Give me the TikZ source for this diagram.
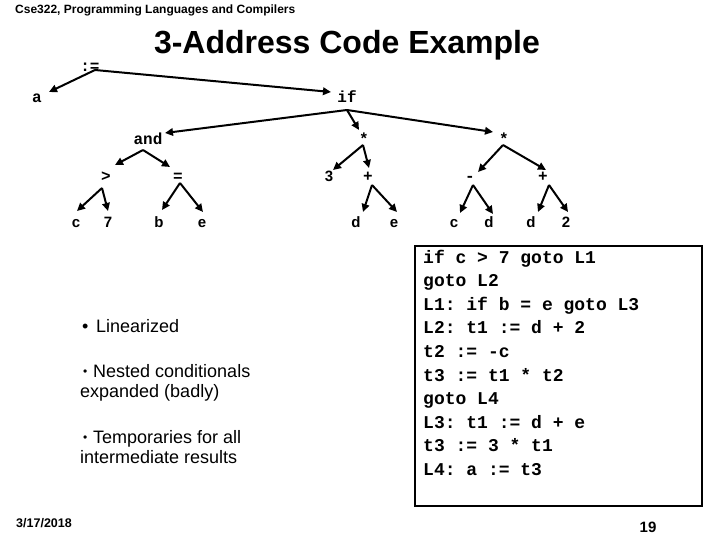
\documentclass[tikz,border=0pt]{standalone}
\usepackage{fontspec}
\setmainfont{Liberation Sans}
\newfontfamily\cour{Liberation Mono}
\usetikzlibrary{arrows.meta}
\frenchspacing
\tikzset{
  op/.style={anchor=base, inner sep=0pt, font=\cour\bfseries\fontsize{16}{16}\selectfont},
  lf/.style={anchor=base, inner sep=0pt, font=\bfseries\fontsize{15}{15}\selectfont},
  arr/.style={line width=2pt, -{Triangle[length=8pt,width=7.5pt]}},
  codeline/.style={anchor=base west, inner sep=0pt, font=\cour\bfseries\fontsize{18}{18}\selectfont\frenchspacing},
  bul/.style={anchor=base west, inner sep=0pt, font=\fontsize{18}{18}\selectfont},
}
\begin{document}
\begin{tikzpicture}[x=1pt,y=-1pt]
\useasboundingbox (0,0) rectangle (720,540);
% header and title
\node[anchor=base west, inner sep=0pt, font=\bfseries\fontsize{12}{13}\selectfont] (hdr) at (15,14) {Cse322, Programming Languages and Compilers};
\node[anchor=base, inner sep=0pt, font=\bfseries\fontsize{32}{33}\selectfont] (title) at (347,54) {3-Address Code Example};
% tree nodes
\node[op] (assign) at (90,72) {:=};
\node[op] (a) at (37,103) {a};
\node[op] (if) at (347,103) {if};
\node[op] (and) at (148,145) {and};
\node[op] (gt) at (106,182) {>};
\node[op] (eq) at (178,182) {=};
\node[lf] (c1) at (76,227) {c};
\node[lf] (seven) at (108,227) {7};
\node[lf] (b) at (159,227) {b};
\node[lf] (e1) at (202,227) {e};
\node[op] (mul1) at (364,145) {*};
\node[lf] (three) at (329,182) {3};
\node[op] (plus1) at (368,182) {+};
\node[lf] (d1) at (356,227) {d};
\node[lf] (e2) at (394,227) {e};
\node[op] (mul2) at (504,145) {*};
\node[op] (minus) at (470,182) {-};
\node[op] (plus2) at (543,182) {+};
\node[lf] (c2) at (454,227) {c};
\node[lf] (d2) at (489,227) {d};
\node[lf] (d3) at (531,227) {d};
\node[lf] (two) at (566,227) {2};
% edges
\draw[arr] ([shift={(5,-2)}]assign.base) -- ([shift={(12,-11)}]a.base);
\draw[arr] ([shift={(5,-2)}]assign.base) -- ([shift={(-16,-11)}]if.base);
\draw[arr] ([shift={(0,7)}]if.base) -- ([shift={(17,-12)}]and.base);
\draw[arr] ([shift={(0,7)}]if.base) -- ([shift={(-5,-15)}]mul1.base);
\draw[arr] ([shift={(0,7)}]if.base) -- ([shift={(-11,-13)}]mul2.base);
\draw[arr] ([shift={(-5,5)}]and.base) -- ([shift={(9,-17)}]gt.base);
\draw[arr] ([shift={(-5,5)}]and.base) -- ([shift={(-8,-15)}]eq.base);
\draw[arr] ([shift={(-4,6)}]gt.base) -- ([shift={(1,-16)}]c1.base);
\draw[arr] ([shift={(-4,6)}]gt.base) -- ([shift={(0,-16)}]seven.base);
\draw[arr] ([shift={(2,1)}]eq.base) -- ([shift={(3,-17)}]b.base);
\draw[arr] ([shift={(2,1)}]eq.base) -- ([shift={(1,-15)}]e1.base);
\draw[arr] ([shift={(-1,0)}]mul1.base) -- ([shift={(4,-12)}]three.base);
\draw[arr] ([shift={(-1,0)}]mul1.base) -- ([shift={(1,-14)}]plus1.base);
\draw[arr] ([shift={(4,3)}]plus1.base) -- ([shift={(7,-15)}]d1.base);
\draw[arr] ([shift={(4,3)}]plus1.base) -- ([shift={(3,-15)}]e2.base);
\draw[arr] ([shift={(-1,0)}]mul2.base) -- ([shift={(8,-10)}]minus.base);
\draw[arr] ([shift={(-1,0)}]mul2.base) -- ([shift={(3,-12)}]plus2.base);
\draw[arr] ([shift={(3,3)}]minus.base) -- ([shift={(6,-14)}]c2.base);
\draw[arr] ([shift={(3,3)}]minus.base) -- ([shift={(4,-13)}]d2.base);
\draw[arr] ([shift={(6,3)}]plus2.base) -- ([shift={(7,-15)}]d3.base);
\draw[arr] ([shift={(6,3)}]plus2.base) -- ([shift={(2,-15)}]two.base);
% bullets
\node[bul] (b1dot) at (82,332) {•};
\node[bul] (b1) at (96,332) {Linearized};
\node[bul, font=\fontsize{12}{12}\selectfont] (b2dot) at (83,375) {•};
\node[bul] (b2) at (93,377) {Nested conditionals};
\node[bul] (b2b) at (80,397) {expanded (badly)};
\node[bul, font=\fontsize{12}{12}\selectfont] (b3dot) at (83,441) {•};
\node[bul] (b3) at (93,443) {Temporaries for all};
\node[bul] (b3b) at (80,463) {intermediate results};
% code box
\draw[line width=1.2pt] (415,246) rectangle (702,506);
\foreach \t [count=\i from 0] in {if c > 7 goto L1, goto L2, L1: if b = e goto L3, L2: t1 := d + 2, t2 := -c, t3 := t1 * t2, goto L4, L3: t1 := d + e, t3 := 3 * t1, L4: a := t3}
  \node[codeline] (code\i) at (423,{263+23.6*\i}) {\t};
% footer
\node[anchor=base west, inner sep=0pt, font=\bfseries\fontsize{12.5}{13}\selectfont] (date) at (16,527) {3/17/2018};
\node[anchor=base, inner sep=0pt, font=\bfseries\fontsize{15}{15}\selectfont] (page) at (648,532) {19};
\end{tikzpicture}
\end{document}
